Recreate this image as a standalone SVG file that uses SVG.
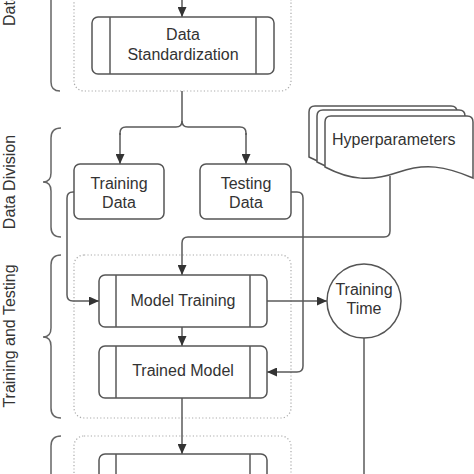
<svg xmlns="http://www.w3.org/2000/svg" width="474" height="474" viewBox="0 0 474 474">
<defs>
<marker id="ah" markerUnits="userSpaceOnUse" markerWidth="10" markerHeight="9" refX="10" refY="4.5" orient="auto">
<path d="M0,0 L10,4.5 L0,9 Z" fill="#333"/>
</marker>
<style>
.t{font-family:"Liberation Sans",Arial,sans-serif;font-size:16px;fill:#333}
.c{text-anchor:middle}
.box{fill:#fff;stroke:#555;stroke-width:1.5}
.ln{fill:none;stroke:#5a5a5a;stroke-width:1.5}
.ar{fill:none;stroke:#5a5a5a;stroke-width:1.5;marker-end:url(#ah)}
.grp{fill:none;stroke:#aaa;stroke-width:1.2;stroke-dasharray:1.2 2.2}
.br{fill:none;stroke:#666;stroke-width:1.5}
</style>
</defs>
<rect width="474" height="474" fill="#fff"/>

<g id="containers">
<rect class="grp" x="74" y="-60" width="217" height="151" rx="10"/>
<rect class="grp" x="74" y="255" width="217" height="163" rx="10"/>
<rect class="grp" x="74" y="436" width="217" height="80" rx="10"/>
</g>

<g id="braces">
<path class="br" d="M60,-40 Q51,-40 51,-30 L51,82 Q51,91 60,91"/>
<path class="br" d="M61,128 Q51,128 51,138 L51,173 Q51,182 43,182 Q51,182 51,191 L51,227 Q51,237 61,237"/>
<path class="br" d="M61,255 Q51,255 51,265 L51,328 Q51,337 43,337 Q51,337 51,346 L51,408 Q51,418 61,418"/>
<path class="br" d="M61,436 Q51,436 51,446 L51,480"/>
</g>

<g id="labels">
<text class="t" transform="translate(15,26) rotate(-90)">Data</text>
<text class="t c" transform="translate(15,182) rotate(-90)">Data Division</text>
<text class="t c" transform="translate(15,336) rotate(-90)">Training and Testing</text>
</g>

<g id="connectors">
<path class="ar" d="M182,0 L182,17"/>
<path class="ln" d="M182,91 L182,121 Q182,127 176,127 L126,127 Q120,127 120,133 L120,135"/>
<path class="ar" d="M120,133 L120,164"/>
<path class="ln" d="M182,121 Q182,127 188,127 L240,127 Q246,127 246,133 L246,135"/>
<path class="ar" d="M246,133 L246,164"/>
<path class="ar" d="M390,176 L390,231 Q390,237 384,237 L188,237 Q182,237 182,243 L182,275"/>
<path class="ar" d="M74,192 L73,192 Q67,192 67,198 L67,295 Q67,301 73,301 L99,301"/>
<path class="ar" d="M291,192 L297,192 Q303,192 303,198 L303,366 Q303,372 297,372 L267,372"/>
<path class="ar" d="M182,327 L182,346"/>
<path class="ar" d="M267,301 L327,301"/>
<path class="ar" d="M182,398 L182,454"/>
<path class="ln" d="M364,338 L364,474"/>
</g>

<g id="data-standardization">
<rect class="box" x="92" y="17" width="182" height="57" rx="6"/>
<path class="ln" d="M110,17 V74 M256,17 V74" stroke="#555"/>
<text class="t c" x="183" y="40">Data</text>
<text class="t c" x="183" y="60">Standardization</text>
</g>

<g id="training-data">
<rect class="box" x="74" y="164" width="90" height="55" rx="6"/>
<text class="t c" x="119" y="189">Training</text>
<text class="t c" x="119" y="208">Data</text>
</g>

<g id="testing-data">
<rect class="box" x="200" y="164" width="91" height="55" rx="6"/>
<text class="t c" x="246" y="189">Testing</text>
<text class="t c" x="246" y="208">Data</text>
</g>

<g id="hyperparameters">
<path class="box" d="M309,157 L309,112 Q309,106 315,106 L451,106 Q457,106 457,112 L457,168 C429,156 409,153 383,162 C354,172 334,170 309,157 Z"/>
<path class="box" d="M317,162 L317,116 Q317,110 323,110 L459,110 Q465,110 465,116 L465,173 C437,161 417,158 391,167 C362,177 342,175 317,162 Z"/>
<path class="box" d="M325,167 L325,122 Q325,116 331,116 L467,116 Q473,116 473,122 L473,178 C445,166 425,163 399,172 C370,182 350,180 325,167 Z"/>
<text class="t" x="332" y="145">Hyperparameters</text>
</g>

<g id="model-training">
<rect class="box" x="99" y="275" width="168" height="52" rx="6"/>
<path class="ln" d="M116,275 V327 M250,275 V327" stroke="#555"/>
<text class="t c" x="183" y="306">Model Training</text>
</g>

<g id="trained-model">
<rect class="box" x="99" y="346" width="168" height="52" rx="6"/>
<path class="ln" d="M116,346 V398 M250,346 V398" stroke="#555"/>
<text class="t c" x="183" y="376">Trained Model</text>
</g>

<g id="training-time">
<circle class="box" cx="364" cy="301" r="37"/>
<text class="t c" x="364" y="295">Training</text>
<text class="t c" x="364" y="314">Time</text>
</g>

<g id="bottom-process">
<rect class="box" x="99" y="454" width="168" height="60" rx="6"/>
<path class="ln" d="M116,454 V514 M250,454 V514" stroke="#555"/>
</g>
</svg>
